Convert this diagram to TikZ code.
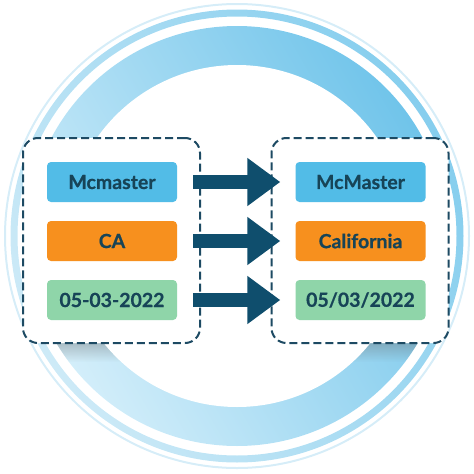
\documentclass[tikz,border=0pt]{standalone}
\usepackage{fontspec}
\setmainfont{Lato}[BoldFeatures={FakeBold=0.6}]
\usetikzlibrary{arrows.meta,fadings}
\definecolor{navy}{HTML}{1D4A63}
\definecolor{arrowc}{HTML}{0F4E6D}
\definecolor{txt}{HTML}{174457}
\definecolor{cblue}{HTML}{52BCE7}
\definecolor{corange}{HTML}{F7901E}
\definecolor{cgreen}{HTML}{8FD5A9}
\definecolor{banddark}{HTML}{70C4EA}
\definecolor{bandlight}{HTML}{D3EEFA}
\definecolor{ringdark}{HTML}{86CEEE}
\definecolor{ringlight}{HTML}{CDEAF7}
\definecolor{faint}{HTML}{D6EDF8}
\tikzset{
  frame/.style={draw=navy, line width=2pt, dash pattern=on 8pt off 4pt, rounded corners=15pt, fill=white, minimum width=177pt, minimum height=205pt, inner sep=0pt},
  cell/.style={rounded corners=4pt, minimum width=130pt, minimum height=40pt, inner sep=0pt, text=txt, font=\fontsize{19.5}{19.5}\selectfont\bfseries},
  bigarrow/.style={draw=arrowc, line width=14pt, -{Triangle[width=46pt,length=33pt]}, shorten <=16pt, shorten >=15pt}
}
\begin{document}
\begin{tikzpicture}[x=1pt,y=-1pt]
\useasboundingbox (0,0) rectangle (474,474);
\coordinate (c) at (237,236);
% outer faint ring
\draw[faint, line width=2pt] (c) circle (232);
% thin ring
\shade[even odd rule, top color=ringdark, bottom color=ringlight, shading angle=-60] (c) circle (226.5) (c) circle (219.5);
% thick band with shadow
\begin{scope}
\clip (c) circle (210);
\shade[top color=banddark, bottom color=bandlight, shading angle=-60] (c) circle (210);
\fill[black!60, opacity=0.35, path fading=south] (40,343) rectangle (190,362);
\fill[black!60, opacity=0.35, path fading=south] (285,343) rectangle (445,362);
\end{scope}
\fill[white] (c) circle (171);
% frames
\node[frame] (lf) at (111.5,240.5) {};
\node[frame] (rf) at (360,240.5) {};
% cells
\node[cell, fill=cblue] (l1) at (112,182) {Mcmaster};
\node[cell, fill=corange] (l2) at (112,241) {CA};
\node[cell, fill=cgreen] (l3) at (112,300) {05-03-2022};
\node[cell, fill=cblue] (r1) at (360.5,182) {McMaster};
\node[cell, fill=corange] (r2) at (360.5,241) {California};
\node[cell, fill=cgreen] (r3) at (360.5,300) {05/03/2022};
% arrows
\draw[bigarrow] (l1.east) -- (r1.west);
\draw[bigarrow] (l2.east) -- (r2.west);
\draw[bigarrow] (l3.east) -- (r3.west);
\end{tikzpicture}
\end{document}
